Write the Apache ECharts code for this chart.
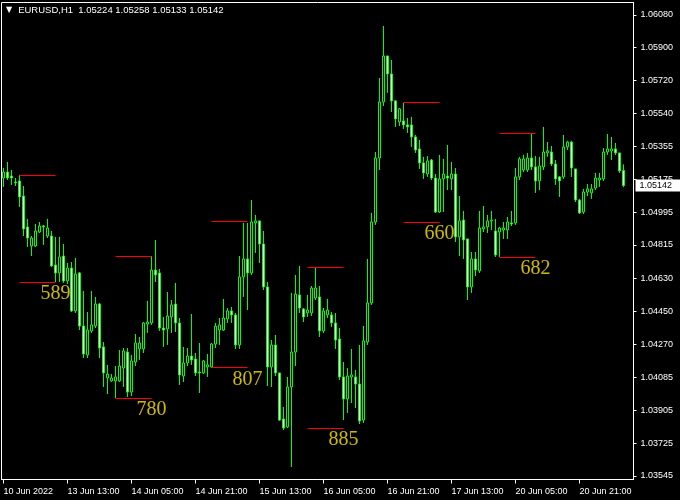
<!DOCTYPE html>
<html><head><meta charset="utf-8">
<script src="https://cdn.jsdelivr.net/npm/echarts@6/dist/echarts.min.js"></script>
<style>html,body{margin:0;padding:0;background:#000}#c{width:680px;height:500px}</style>
</head><body><div id="c"></div>
<script>
const symbol = 'EURUSD';
const timeframe = 'H1';
// trading sessions: [day, first hour, last hour]
const sessions = [['10 Jun', 21, 23], ['13 Jun', 0, 23], ['14 Jun', 0, 23], ['15 Jun', 0, 23],
  ['16 Jun', 0, 23], ['17 Jun', 0, 23], ['20 Jun', 0, 23], ['21 Jun', 0, 10]];
const firstLabel = '10 Jun 2022';
// [open, close, low, high]
const candles = [
[1.05183,1.05216,1.05134,1.05238],[1.05216,1.05183,1.05172,1.05271],[1.05194,1.05183,1.05145,1.05227],[1.05161,1.05156,1.05139,1.05183],
[1.05167,1.05079,1.05024,1.05200],[1.05084,1.04903,1.04864,1.05139],[1.04914,1.04853,1.04804,1.04958],[1.04809,1.04853,1.04754,1.04864],
[1.04809,1.04892,1.04804,1.04930],[1.04886,1.04919,1.04881,1.04941],[1.04919,1.04914,1.04815,1.04925],[1.04864,1.04908,1.04853,1.04958],
[1.04864,1.04699,1.04694,1.04892],[1.04705,1.04661,1.04611,1.04859],[1.04661,1.04749,1.04611,1.04859],[1.04754,1.04617,1.04606,1.04820],
[1.04617,1.04688,1.04600,1.04716],[1.04688,1.04452,1.04446,1.04721],[1.04452,1.04655,1.04441,1.04743],[1.04661,1.04369,1.04347,1.04666],
[1.04369,1.04215,1.04193,1.04562],[1.04210,1.04347,1.04193,1.04446],[1.04342,1.04375,1.04331,1.04562],[1.04369,1.04490,1.04358,1.04529],
[1.04490,1.04248,1.04193,1.04496],[1.04254,1.04111,1.04034,1.04281],[1.04083,1.04105,1.03995,1.04155],[1.04067,1.04083,1.04061,1.04105],
[1.04067,1.04089,1.03973,1.04149],[1.04067,1.04149,1.04061,1.04237],[1.04138,1.04232,1.04034,1.04248],[1.04226,1.04006,1.03979,1.04248],
[1.04006,1.04177,1.03984,1.04210],[1.04171,1.04276,1.04149,1.04325],[1.04243,1.04276,1.04182,1.04309],[1.04243,1.04386,1.04221,1.04391],
[1.04380,1.04391,1.04331,1.04507],[1.04386,1.04677,1.04375,1.04754],[1.04677,1.04650,1.04611,1.04842],[1.04661,1.04358,1.04342,1.04683],
[1.04358,1.04347,1.04254,1.04419],[1.04353,1.04424,1.04265,1.04556],[1.04419,1.04485,1.04331,1.04512],[1.04490,1.04386,1.04336,1.04606],
[1.04386,1.04100,1.04045,1.04413],[1.04094,1.04166,1.04061,1.04254],[1.04166,1.04204,1.04149,1.04248],[1.04204,1.04182,1.04155,1.04435],
[1.04188,1.04111,1.04094,1.04221],[1.04116,1.04111,1.04001,1.04276],[1.04111,1.04177,1.04105,1.04182],[1.04144,1.04155,1.04089,1.04215],
[1.04144,1.04270,1.04138,1.04276],[1.04270,1.04369,1.04248,1.04386],[1.04347,1.04375,1.04265,1.04413],[1.04347,1.04413,1.04342,1.04518],
[1.04408,1.04452,1.04386,1.04468],[1.04452,1.04430,1.04386,1.04474],[1.04430,1.04265,1.04243,1.04441],[1.04265,1.04639,1.04243,1.04754],
[1.04639,1.04738,1.04529,1.04936],[1.04738,1.04661,1.04457,1.04936],[1.04661,1.04941,1.04650,1.05062],[1.04936,1.04947,1.04771,1.04980],
[1.04947,1.04820,1.04716,1.04947],[1.04820,1.04584,1.04567,1.04892],[1.04584,1.04144,1.04039,1.04611],[1.04144,1.04265,1.04034,1.04292],
[1.04265,1.04111,1.04094,1.04320],[1.04111,1.03852,1.03847,1.04111],[1.03858,1.03808,1.03797,1.03924],[1.03814,1.04034,1.03808,1.04089],
[1.04034,1.04226,1.03594,1.04551],[1.04226,1.04545,1.04149,1.04650],[1.04540,1.04468,1.04441,1.04699],[1.04463,1.04419,1.04391,1.04468],
[1.04441,1.04457,1.04419,1.04540],[1.04441,1.04578,1.04424,1.04589],[1.04523,1.04578,1.04512,1.04688],[1.04529,1.04342,1.04309,1.04589],
[1.04342,1.04452,1.04331,1.04468],[1.04430,1.04457,1.04413,1.04518],[1.04430,1.04386,1.04364,1.04446],[1.04386,1.04292,1.04243,1.04441],
[1.04298,1.04089,1.04072,1.04358],[1.04089,1.03968,1.03852,1.04171],[1.03968,1.04094,1.03891,1.04138],[1.04089,1.04100,1.03946,1.04243],
[1.04089,1.04050,1.03918,1.04127],[1.04050,1.03847,1.03830,1.04265],[1.03852,1.04287,1.03836,1.04369],[1.04281,1.04496,1.04265,1.04738],
[1.04496,1.04941,1.04485,1.04991],[1.04941,1.05293,1.04925,1.05326],[1.05293,1.05601,1.05227,1.05733],[1.05601,1.05854,1.05579,1.06019],
[1.05854,1.05755,1.05651,1.05854],[1.05755,1.05607,1.05546,1.05832],[1.05607,1.05508,1.05464,1.05612],[1.05491,1.05563,1.05469,1.05568],
[1.05497,1.05475,1.05453,1.05596],[1.05475,1.05464,1.05431,1.05513],[1.05475,1.05409,1.05354,1.05519],[1.05409,1.05337,1.05321,1.05420],
[1.05343,1.05266,1.05233,1.05392],[1.05266,1.05211,1.05178,1.05299],[1.05205,1.05277,1.05189,1.05304],[1.05282,1.05183,1.05172,1.05288],
[1.05183,1.04996,1.04991,1.05205],[1.04996,1.05178,1.04991,1.05310],[1.05178,1.05205,1.04996,1.05288],[1.05194,1.05183,1.05117,1.05365],
[1.05178,1.05205,1.05117,1.05271],[1.05205,1.04859,1.04831,1.05238],[1.04859,1.04947,1.04754,1.05084],[1.04952,1.04842,1.04738,1.05002],
[1.04848,1.04584,1.04512,1.04848],[1.04584,1.04738,1.04551,1.04776],[1.04738,1.04677,1.04644,1.04776],[1.04672,1.04908,1.04661,1.05002],
[1.04903,1.04914,1.04886,1.05029],[1.04914,1.04947,1.04881,1.04980],[1.04947,1.04952,1.04897,1.05002],[1.04892,1.04760,1.04749,1.04958],
[1.04886,1.04908,1.04749,1.04914],[1.04897,1.04908,1.04848,1.04941],[1.04897,1.04941,1.04848,1.04969],[1.04936,1.04930,1.04919,1.05002],
[1.04936,1.05189,1.04925,1.05238],[1.05189,1.05288,1.05172,1.05299],[1.05227,1.05288,1.05216,1.05310],[1.05227,1.05293,1.05216,1.05321],
[1.05293,1.05244,1.05227,1.05431],[1.05244,1.05167,1.05101,1.05304],[1.05167,1.05249,1.05117,1.05299],[1.05244,1.05326,1.05227,1.05464],
[1.05321,1.05332,1.05299,1.05381],[1.05326,1.05260,1.05249,1.05359],[1.05260,1.05178,1.05145,1.05282],[1.05189,1.05167,1.05079,1.05194],
[1.05189,1.05354,1.05178,1.05420],[1.05354,1.05381,1.05337,1.05387],[1.05381,1.05238,1.05189,1.05387],[1.05233,1.05062,1.05051,1.05233],
[1.05062,1.04991,1.04985,1.05068],[1.04996,1.05106,1.04985,1.05123],[1.05106,1.05123,1.05084,1.05150],[1.05101,1.05123,1.05068,1.05150],
[1.05128,1.05183,1.05117,1.05211],[1.05172,1.05183,1.05134,1.05211],[1.05178,1.05326,1.05167,1.05348],[1.05326,1.05343,1.05310,1.05425],
[1.05332,1.05343,1.05282,1.05409],[1.05343,1.05321,1.05310,1.05376],[1.05321,1.05222,1.05211,1.05321],[1.05224,1.05142,1.05133,1.05258]
];
const yTicks = [1.06080, 1.05900, 1.05720, 1.05540, 1.05355, 1.05175, 1.04995, 1.04815,
  1.04630, 1.04450, 1.04270, 1.04085, 1.03905, 1.03725, 1.03545];
const yMin = 1.03525, yMax = 1.06148;
// swing markers: start bar, top price, range in points
const swingStart = [4, 28, 52, 76, 100, 124];
const swingTop = [1.05200, 1.04754, 1.04947, 1.04694, 1.05601, 1.05431];
const swingPoints = [589, 780, 807, 885, 660, 682];
const swingSpan = 9;
const pointSize = 0.00001;

const times = [];
sessions.forEach(([d, h0, h1]) => {
  for (let h = h0; h <= h1; h++) times.push(d + ' ' + String(h).padStart(2, '0') + ':00');
});
const last = candles[candles.length - 1];
const fmt = v => v.toFixed(5);
const font = 'Liberation Sans, Arial, sans-serif';

const swingLines = [];
const swingLabels = [];
swingStart.forEach((s, k) => {
  const top = swingTop[k];
  const bot = top - swingPoints[k] * pointSize;
  swingLines.push([{ coord: [s, top] }, { coord: [s + swingSpan, top] }]);
  swingLines.push([{ coord: [s, bot] }, { coord: [s + swingSpan, bot] }]);
  swingLabels.push([s + swingSpan, bot, String(swingPoints[k])]);
});

const chart = echarts.init(document.getElementById('c'), null, { renderer: 'canvas' });
chart.setOption({
  backgroundColor: '#000000',
  animation: false,
  title: {
    left: 6, top: 5, padding: 0,
    text: '{tri|▼}' + symbol + ',' + timeframe + '  ' + [last[0], last[3], last[2], last[1]].map(fmt).join(' '),
    textStyle: {
      color: '#ffffff', fontSize: 9.5, fontWeight: 'normal', fontFamily: font,
      rich: { tri: { fontSize: 8, fontFamily: 'DejaVu Sans', color: '#ffffff', padding: [0, 6, 0, 0] } }
    }
  },
  grid: {
    left: 1.5, right: 46.5, top: 2.5, bottom: 20.5,
    show: true, borderColor: '#ffffff', borderWidth: 1, backgroundColor: '#000000',
    outerBoundsMode: 'none'
  },
  xAxis: {
    type: 'category', data: times, boundaryGap: true,
    axisLine: { show: true, lineStyle: { color: '#ffffff', width: 1 } },
    axisTick: { show: true, interval: 15, alignWithLabel: true, length: 4, lineStyle: { color: '#ffffff' } },
    axisLabel: {
      interval: 15, color: '#ffffff', fontSize: 9, fontFamily: font, align: 'left', margin: 8,
      formatter: (v, i) => (i === 0 ? firstLabel : v)
    },
    splitLine: { show: false }
  },
  yAxis: {
    type: 'value', position: 'right', min: yMin, max: yMax, scale: true,
    axisLine: { show: true, lineStyle: { color: '#ffffff', width: 1 } },
    axisTick: { show: true, customValues: yTicks, length: 3, lineStyle: { color: '#ffffff' } },
    axisLabel: { customValues: yTicks, color: '#ffffff', fontSize: 9, fontFamily: font, margin: 7, formatter: v => fmt(v) },
    splitLine: { show: false }
  },
  series: [
    {
      type: 'candlestick', data: candles, barWidth: 2,
      itemStyle: { color: '#000000', color0: '#ffffff', borderColor: '#00ff00', borderColor0: '#00ff00', borderWidth: 1 },
      markLine: {
        silent: true, symbol: ['none', 'none'], animation: false, precision: 5,
        label: { show: false },
        lineStyle: { color: '#ff0000', width: 1, type: 'solid' },
        data: swingLines.concat([{
          yAxis: last[1],
          lineStyle: { color: 'rgba(0,0,0,0)', width: 1 },
          label: {
            show: true, position: 'end', distance: 2, formatter: () => fmt(last[1]),
            backgroundColor: '#ffffff', color: '#000000', fontSize: 9, fontFamily: font, padding: [2, 8, 1, 4]
          }
        }])
      }
    },
    {
      type: 'scatter', data: swingLabels, symbolSize: 0, silent: true,
      label: {
        show: true, position: 'bottom', distance: 2, formatter: p => p.value[2],
        color: '#ffe600', fontSize: 20, fontFamily: 'Liberation Serif, Times New Roman, serif'
      }
    }
  ]
});
</script></body></html>
